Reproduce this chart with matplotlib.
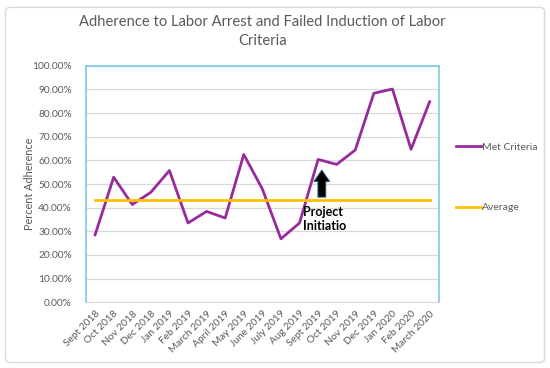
import matplotlib.pyplot as plt
from matplotlib.patches import FancyBboxPatch
from matplotlib.ticker import PercentFormatter

plt.rcParams['font.family'] = ['Lato', 'DejaVu Sans']

months = ['Sept 2018', 'Oct 2018', 'Nov 2018', 'Dec 2018', 'Jan 2019', 'Feb 2019',
          'March 2019', 'April 2019', 'May 2019', 'June 2019', 'July 2019', 'Aug 2019',
          'Sept 2019', 'Oct 2019', 'Nov 2019', 'Dec 2019', 'Jan 2020', 'Feb 2020', 'March 2020']
met_criteria = [28.5, 52.9, 41.3, 46.5, 55.7, 33.5, 38.4, 35.6, 62.5, 47.9, 26.8, 33.5,
                60.4, 58.3, 64.4, 88.4, 90.2, 64.7, 84.8]
average = [43.3] * len(months)

# arrow marking project start (x in category units, y in percent)
arrow_x = 12.2
arrow_y0, arrow_y1 = 43.3, 57.0

gray = '#595959'
fig = plt.figure(figsize=(5.5, 3.68), dpi=100)
ax = fig.add_axes([0.156, 0.179, 0.642, 0.642])

x = list(range(len(months)))
ax.plot(x, met_criteria, color='#982b9c', lw=2.0, label='Met Criteria', zorder=3)
ax.plot(x, average, color='#ffc000', lw=2.0, label='Average', zorder=3)

ax.annotate('', xy=(arrow_x, arrow_y1), xytext=(arrow_x, arrow_y0),
            arrowprops=dict(arrowstyle='simple,head_width=1.1,head_length=0.8,tail_width=0.55',
                            fc='black', ec='#1f4e5f', lw=0.8), zorder=4)
ax.text(11.2, 40.5, 'Project\nInitiatio', fontsize=9, fontweight='bold', color='black',
        va='top', ha='left', linespacing=1.15, zorder=5)

ax.set_xlim(-0.5, len(months) - 0.5)
ax.set_ylim(0, 100)
ax.set_yticks(range(0, 101, 10))
ax.yaxis.set_major_formatter(PercentFormatter(decimals=2))
ax.set_xticks(x)
ax.set_xticklabels(months, rotation=45, ha='right', rotation_mode='anchor')
ax.tick_params(axis='both', length=0, labelsize=7.3, colors=gray)
ax.tick_params(axis='y', pad=10)
ax.tick_params(axis='x', pad=5)
ax.grid(axis='y', color='#d9d9d9', lw=0.9)
ax.set_axisbelow(True)
for side in ['top', 'left', 'right']:
    ax.spines[side].set_color('#7cc8ec')
    ax.spines[side].set_linewidth(1.2)
ax.spines['bottom'].set_color('#d9d9d9')
ax.set_ylabel('Percent Adherence', fontsize=7.8, color=gray, labelpad=-2)

fig.suptitle('Adherence to Labor Arrest and Failed Induction of Labor\nCriteria',
             fontsize=10.6, color=gray, y=0.958, x=0.477, linespacing=1.45)

fig.legend(loc='center left', bbox_to_anchor=(0.82, 0.518), bbox_transform=fig.transFigure,
           frameon=False, fontsize=7.5, labelcolor=gray, labelspacing=4.9,
           handlelength=2.4, handletextpad=0.1, borderpad=0)

fig.patches.append(FancyBboxPatch((0.01, 0.015), 0.98, 0.965, boxstyle='round,pad=0,rounding_size=0.01',
                                  transform=fig.transFigure, fill=False, ec='#d9d9d9', lw=1.0))

fig.savefig('out.png', dpi=100)
